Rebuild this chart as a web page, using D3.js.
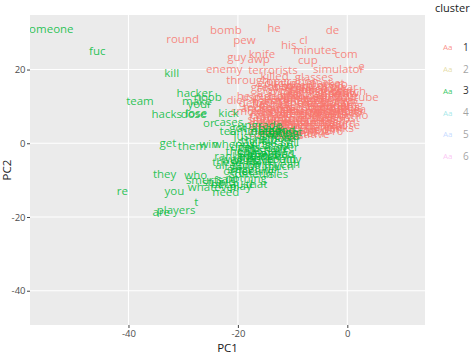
<!DOCTYPE html>
<html>
<head>
<meta charset="utf-8">
<script src="https://cdn.jsdelivr.net/npm/d3@7"></script>
<style>
  html, body { margin: 0; padding: 0; background: #ffffff; }
  svg { display: block; }
  text { font-family: "Open Sans", "Noto Sans", sans-serif; }
</style>
</head>
<body>
<svg id="chart" width="474" height="356"></svg>
<script>
// ---- data (PC1, PC2 per word) ----
const cluster1Labels = [
  ["round",-30.1,28.5],["bomb",-22.2,30.9],["he",-13.4,31.3],["de",-2.7,30.9],
  ["pew",-18.8,28.2],["his",-10.7,26.8],["cl",-8.0,28.2],["minutes",-5.9,25.5],
  ["com",-0.2,24.4],["cup",-7.2,22.6],["guy",-20.2,23.5],["knife",-15.6,24.4],
  ["awp",-16.2,23.0],["enemy",-22.5,20.3],["terrorists",-13.6,20.1],["simulator",-1.6,20.3],
  ["e",2.6,21.2],["through",-18.2,17.2],["killed",-13.3,18.3],["glasses",-6.1,18.0],
  ["csgo",-2.1,16.1],["server",-10.5,15.8],["great",-15.1,15.5],["www",-0.3,13.7],
  ["youtube",1.7,12.8],["headshot",-15.6,13.0],["options",-1.4,9.9],["die",-20.6,11.9],
  ["android",-15.6,9.6],["hahaha",-12.3,5.7],
  ["operation",-10.0,17.0],["market",-4.0,16.5],
  ["gloves",-13.5,14.5],["skins",-8.5,14.5],["trade",-4.5,14.5],["ct",-1.0,14.6],
  ["deagle",-12.0,13.0],["money",-7.5,13.0],["scout",-3.5,13.0],["fade",-0.5,12.9],
  ["aim",-14.0,12.0],["match",-10.0,12.0],["gun",-5.5,12.0],["spray",-2.0,11.8],
  ["defuse",-16.5,11.0],["kit",-11.5,11.0],["nuke",-8.0,11.0],["ak",-4.5,11.0],["valve",-0.5,11.2],
  ["knives",-13.0,10.0],["subscribe",-7.0,10.0],["channel",-3.5,10.2],
  ["train",-15.0,9.0],["link",-10.5,9.0],["katowice",-6.5,9.0],["video",0.0,8.5],
  ["plant",-13.0,8.0],["stattrak",-8.5,8.0],["float",-4.0,8.0],["buy",-1.0,7.6],
  ["pattern",-11.0,7.0],["overpass",-6.5,7.0],["rush",-2.5,6.8],
  ["mirage",-14.0,6.0],["grenade",-8.5,6.0],["armor",-5.0,6.0],["steam",-1.5,6.0],
  ["navi",-16.0,5.0],["helmet",-10.5,5.0],["tournament",-6.0,5.0],
  ["prime",-13.0,4.0],["astralis",-8.5,4.0],["dm",-3.0,4.0],
  ["competitive",-9.0,2.6],["casual",-15.0,3.0],
  ["sniper",-11.5,14.0],["crosshair",-5.5,13.6],["config",-1.5,13.9],
  ["spawn",-13.0,12.5],["ammo",-8.5,12.5],["reload",-3.0,12.3],["vac",0.5,11.9],
  ["ban",-15.5,11.6],["hitbox",-10.0,11.3],["recoil",-5.5,11.0],["radar",-2.0,10.6],
  ["tick",-12.0,10.5],["rate",-8.5,10.3],["fps",-5.0,10.0],["lag",-1.5,9.6],["ping",0.8,10.6],
  ["molly",-13.5,9.2],["decoy",-9.0,9.3],["taser",-3.5,9.0],
  ["rank",-15.5,8.3],["elo",-11.5,8.2],["global",-6.0,8.3],["elite",-2.0,8.2],["nova",0.5,8.9],
  ["bots",-13.8,7.2],["cheat",-9.0,7.1],["wall",-4.5,7.3],["boost",-0.5,7.0],
  ["site",-16.5,6.6],["clutch",-11.5,6.2],["ace",-7.0,6.4],["frag",-3.0,5.6],
  ["entry",-13.0,5.2],["peek",-8.0,5.0],["angle",-3.5,4.6],
  ["pro",-11.0,4.0],["bhop",-6.0,3.8],["mp9",-15.5,4.2],["negev",-11.5,3.2],
  ["lobby",-12.5,15.6],["inventory",-7.0,16.0],["drop",-3.0,15.8],
  ["crate",-9.0,14.8],["key",-5.5,14.9],["wear",-0.5,15.3],
  ["tec9",-17.0,10.0],["cz",-16.8,7.8],["usp",-17.5,12.6],["bayonet",-9.5,3.0],
  ["smokes",-17.5,8.8],["flashes",-14.0,10.8],["kills",-10.5,13.3],["deaths",-6.0,12.4],
  ["stats",-2.5,11.2],["hltv",0.0,10.0],["demo",1.0,7.8],["mouse",-1.0,5.2],
  ["sens",-4.5,6.5],["dpi",-7.5,7.7],["zeus",-10.0,6.0],["ump",-12.5,6.8],
  ["famas",-15.0,7.2],["galil",-16.0,5.6],["p90",-7.5,3.3],["mac10",-4.0,3.6],
  ["scar",-13.5,3.8],["awps",-10.5,2.3],["ranks",-1.5,4.2],["silver",-6.5,11.8],
  ["gold",-3.5,8.0],["eagle",-12.0,9.5],["sheriff",-8.0,9.0],["legend",-4.0,9.8],
  ["faceit",-0.8,9.0],["esea",1.2,9.5],["overwatch",-9.0,8.5],["griefer",-5.5,4.5],
  ["stream",-2.5,14.2],["twitch",-6.5,15.2],["watch",0.5,14.3],["clip",-11.0,16.5],
  ["highlight",-6.5,14.0],["edit",-14.5,16.5],["sound",-9.0,15.8]
];
const cluster3Labels = [
  ["someone",-54.6,31.2],["fuc",-45.7,25.1],["kill",-32.1,19.1],["team",-37.9,11.7],
  ["hacker",-27.9,13.7],["noob",-25.5,12.6],["make",-27.5,11.5],["your",-27.0,10.9],
  ["hacks",-33.0,8.2],["dose",-28.1,8.1],["lose",-27.6,8.4],["kick",-21.7,8.3],
  ["or",-25.3,5.6],["cases",-21.7,6.0],["get",-32.8,0.3],["them",-28.4,-0.5],
  ["win",-25.3,0.0],["when",-21.9,0.0],["using",-16.6,0.0],
  ["teammates",-17.8,3.6],["upgrade",-16.0,5.0],["good",-12.0,3.8],
  ["just",-19.0,2.2],["like",-14.5,2.5],["even",-11.0,2.0],
  ["think",-17.0,1.0],["every",-13.0,0.8],["still",-10.5,0.5],
  ["dont",-19.0,-1.0],["people",-14.0,-1.2],["ever",-11.0,-1.0],
  ["weapons",-14.2,-2.4],["ranked",-20.9,-3.4],["know",-17.5,-2.6],["bad",-11.5,-2.8],
  ["wait",-21.0,-4.2],["stop",-18.0,-3.8],["leave",-16.0,-4.6],
  ["want",-19.0,-4.5],["never",-15.5,-4.0],["could",-12.0,-4.2],
  ["with",-15.2,-5.4],["going",-18.5,-5.8],["much",-12.5,-6.0],
  ["feeling",-16.7,-7.3],["sometimes",-16.2,-8.1],["other",-20.0,-7.5],
  ["nothing",-18.5,-9.2],["said",-22.0,-9.5],["because",-20.9,-10.8],["that",-16.6,-10.8],
  ["whatever",-24.6,-11.8],["stupid",-23.5,-10.5],["play",-19.5,-11.5],
  ["smurfs",-26.1,-9.7],["who",-27.7,-8.6],["need",-22.2,-13.1],
  ["they",-33.4,-8.1],["you",-31.6,-12.8],["re",-41.1,-12.9],
  ["t",-27.6,-15.8],["players",-31.3,-17.9],["are",-34.0,-18.5],
  ["got",-20.0,4.2],["back",-14.0,4.4],["right",-10.5,3.2],
  ["say",-18.5,0.6],["help",-15.0,1.4],["here",-11.8,1.6],
  ["then",-20.0,-2.0],["first",-16.5,-1.8],["last",-12.8,-2.0],
  ["these",-22.0,-5.0],["does",-13.5,-3.4],["only",-10.5,-4.0],
  ["since",-19.5,-6.8],["will",-14.0,-6.8],["yeah",-11.0,-5.6],
  ["mean",-17.0,-3.2],["those",-15.0,-3.0],["gets",-18.0,-1.0],
  ["again",-12.5,-0.2],["already",-20.5,-5.8],
  ["gaming",-12.5,2.9],["dream",-14.5,3.4]
];
const clusterIds = ["1","2","3","4","5","6"];
const visibleClusters = ["1","3"];
const xTicks = [-40,-20,0];
const yTicks = [-40,-20,0,20];
const xDomain = [-58.0, 14.2];
const yDomain = [-49.3, 34.8];

// ---- styles ----
const palette = {"1":"#F8766D","2":"#B79F00","3":"#00BA38","4":"#00BFC4","5":"#619CFF","6":"#F564E3"};
const panel = {left:30, right:425, top:15, bottom:325};

const svg = d3.select("#chart");
svg.append("rect").attr("width",474).attr("height",356).attr("fill","#ffffff");

const x = d3.scaleLinear().domain(xDomain).range([panel.left, panel.right]);
const y = d3.scaleLinear().domain(yDomain).range([panel.bottom, panel.top]);

svg.append("rect")
  .attr("x",panel.left).attr("y",panel.top)
  .attr("width",panel.right-panel.left).attr("height",panel.bottom-panel.top)
  .attr("fill","#EBEBEB");

const grid = svg.append("g");
grid.selectAll("line.v").data(xTicks).enter().append("line")
  .attr("x1",d=>x(d)).attr("x2",d=>x(d))
  .attr("y1",panel.top).attr("y2",panel.bottom)
  .attr("stroke","#ffffff").attr("stroke-width",1.1);
grid.selectAll("line.h").data(yTicks).enter().append("line")
  .attr("y1",d=>y(d)).attr("y2",d=>y(d))
  .attr("x1",panel.left).attr("x2",panel.right)
  .attr("stroke","#ffffff").attr("stroke-width",1.1);

svg.append("clipPath").attr("id","clip").append("rect")
  .attr("x",panel.left).attr("y",panel.top)
  .attr("width",panel.right-panel.left).attr("height",panel.bottom-panel.top);

const marks = svg.append("g").attr("clip-path","url(#clip)");
function drawCluster(labels, id){
  marks.append("g").selectAll("text").data(labels).enter().append("text")
    .attr("x",d=>x(d[1])).attr("y",d=>y(d[2]))
    .attr("text-anchor","middle").attr("dominant-baseline","central")
    .attr("font-size","11.5px")
    .attr("fill",palette[id]).attr("fill-opacity",0.85)
    .text(d=>d[0]);
}
drawCluster(cluster1Labels,"1");
drawCluster(cluster3Labels,"3");

// axes
const xAxis = svg.append("g").attr("transform",`translate(0,${panel.bottom})`)
  .call(d3.axisBottom(x).tickValues(xTicks).tickSize(3).tickPadding(2).tickFormat(d3.format("d")));
const yAxis = svg.append("g").attr("transform",`translate(${panel.left},0)`)
  .call(d3.axisLeft(y).tickValues(yTicks).tickSize(3).tickPadding(1.5).tickFormat(d3.format("d")));
[xAxis,yAxis].forEach(a=>{
  a.select(".domain").remove();
  a.selectAll(".tick line").attr("stroke","#444444");
  a.selectAll(".tick text").attr("fill","#4D4D4D").attr("font-size","9.5px")
    .attr("font-family","'Open Sans', sans-serif");
});
xAxis.selectAll(".tick text").text(d=>d<0? "-"+Math.abs(d): d);
yAxis.selectAll(".tick text").text(d=>d<0? "-"+Math.abs(d): d);

svg.append("text").attr("x",(panel.left+panel.right)/2).attr("y",352)
  .attr("text-anchor","middle").attr("font-size","11.5px").attr("fill","#1a1a1a").text("PC1");
svg.append("text").attr("transform",`translate(11,${(panel.top+panel.bottom)/2}) rotate(-90)`)
  .attr("text-anchor","middle").attr("font-size","11.5px").attr("fill","#1a1a1a").text("PC2");

// legend
const legend = svg.append("g");
legend.append("text").attr("x",435).attr("y",12).attr("font-size","11px").attr("fill","#1a1a1a").text("cluster");
const items = legend.selectAll("g.item").data(clusterIds).enter().append("g")
  .attr("transform",(d,i)=>`translate(0,${46.7+i*21.8})`)
  .attr("opacity",d=>visibleClusters.includes(d)?1:0.45);
items.append("text").attr("x",443).attr("y",0).attr("dominant-baseline","central")
  .attr("font-size","8px").attr("fill",d=>palette[d]).attr("fill-opacity",0.8).text("Aa");
items.append("text").attr("x",463).attr("y",0).attr("dominant-baseline","central")
  .attr("font-size","10px").attr("fill","#333333").text(d=>d);
</script>
</body>
</html>
